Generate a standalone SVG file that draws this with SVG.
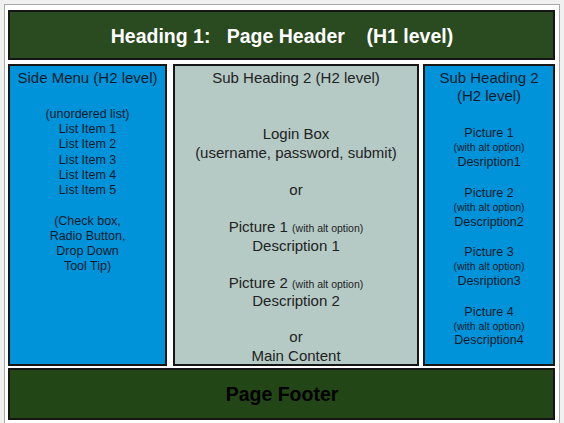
<svg xmlns="http://www.w3.org/2000/svg" width="564" height="423" viewBox="0 0 564 423">
<style>
.box{stroke:#161616;stroke-width:2}
.t{font-family:"Liberation Sans",Arial,sans-serif;text-anchor:middle}
.big{font-size:19.5px;font-weight:bold}
.blue{fill:#0a1b2c}
.mid{fill:#222}
.s{font-size:10.5px}
</style>
<rect x="0" y="0" width="564" height="423" fill="#f0f0f0"/>
<rect x="4.5" y="4.5" width="555" height="430" fill="#fff" stroke="#a8a8a8"/>
<g id="header">
<rect class="box" x="9" y="11" width="545" height="48" fill="#2a4a1f"/>
<text class="t big" x="282" y="43" fill="#fff" xml:space="preserve">Heading 1:   Page Header    (H1 level)</text>
</g>
<g id="side-menu">
<rect class="box" x="9" y="65" width="157" height="300" fill="#0093da"/>
<g class="t blue" font-size="12.5">
<text x="87.5" y="83" font-size="15">Side Menu (H2 level)</text>
<text x="87.5" y="118">(unordered list)</text>
<text x="87.5" y="133">List Item 1</text>
<text x="87.5" y="148">List Item 2</text>
<text x="87.5" y="163.5">List Item 3</text>
<text x="87.5" y="179">List Item 4</text>
<text x="87.5" y="194">List Item 5</text>
<text x="87.5" y="225">(Check box,</text>
<text x="87.5" y="240">Radio Button,</text>
<text x="87.5" y="255">Drop Down</text>
<text x="87.5" y="270">Tool Tip)</text>
</g>
</g>
<g id="main-content">
<rect class="box" x="174" y="65" width="244" height="300" fill="#b5cac5"/>
<g class="t mid" font-size="15">
<text x="296" y="83">Sub Heading 2 (H2 level)</text>
<text x="296" y="139">Login Box</text>
<text x="296" y="158">(username, password, submit)</text>
<text x="296" y="195">or</text>
<text x="296" y="232">Picture 1 <tspan class="s">(with alt option)</tspan></text>
<text x="296" y="251">Description 1</text>
<text x="296" y="288">Picture 2 <tspan class="s">(with alt option)</tspan></text>
<text x="296" y="306">Description 2</text>
<text x="296" y="342">or</text>
<text x="296" y="361">Main Content</text>
</g>
</g>
<g id="right-column">
<rect class="box" x="424" y="65" width="130" height="300" fill="#0093da"/>
<g class="t blue" font-size="12.5">
<text x="489" y="83" font-size="15">Sub Heading 2</text>
<text x="489" y="101" font-size="15">(H2 level)</text>
<text x="489" y="137">Picture 1</text>
<text x="489" y="151" class="s">(with alt option)</text>
<text x="489" y="166">Desription1</text>
<text x="489" y="197">Picture 2</text>
<text x="489" y="211" class="s">(with alt option)</text>
<text x="489" y="226">Description2</text>
<text x="489" y="256">Picture 3</text>
<text x="489" y="270" class="s">(with alt option)</text>
<text x="489" y="285">Desription3</text>
<text x="489" y="316">Picture 4</text>
<text x="489" y="330" class="s">(with alt option)</text>
<text x="489" y="344">Description4</text>
</g>
</g>
<g id="footer">
<rect class="box" x="9" y="369" width="545" height="50" fill="#224615"/>
<text class="t big" x="282" y="401" fill="#000">Page Footer</text>
</g>
<g id="connectors"></g>
</svg>
